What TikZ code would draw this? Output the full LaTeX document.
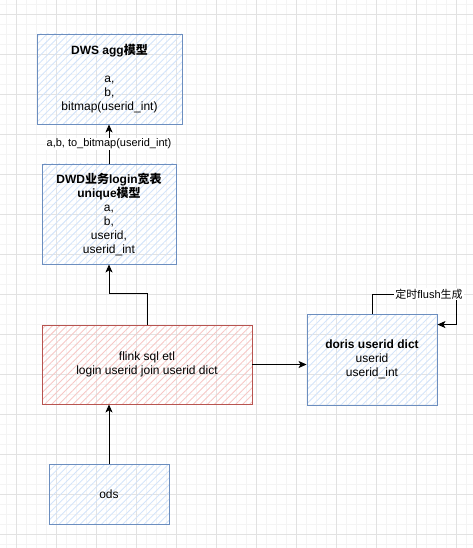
\documentclass[tikz,border=0pt]{standalone}
\usepackage{fontspec}
\setmainfont{Liberation Sans}
\newfontfamily\cjk{Noto Sans CJK SC}
\usepackage{tikz}
\usetikzlibrary{arrows.meta,patterns.meta,positioning}
\definecolor{boxblue}{HTML}{6C8EBF}
\definecolor{hatchblue}{HTML}{D4E4FA}
\definecolor{boxred}{HTML}{B85450}
\definecolor{hatchred}{HTML}{F6C8C6}
\definecolor{gridmaj}{HTML}{E2E2E2}
\definecolor{gridmin}{HTML}{F4F4F4}
\tikzset{
  tbl/.style = {align=center, inner sep=0pt, text centered,
    font=\fontsize{12}{14}\selectfont, line width=0.9pt},
  tbl_b/.style = {tbl, rectangle, draw=boxblue,
    pattern={Lines[angle=45,distance=5pt,line width=0.9pt]},
    pattern color=hatchblue},% table bleue
  tbl_r/.style = {tbl, rectangle, draw=boxred,
    pattern={Lines[angle=45,distance=5pt,line width=0.9pt]},
    pattern color=hatchred},% etape flink
  lbl/.style = {fill=white, inner sep=1pt,
    font=\fontsize{11}{13}\selectfont}% texte sur fleche
}

\begin{document}
\begin{tikzpicture}[x=1pt,y=-1pt,>={Stealth[length=8pt,width=7pt,inset=2pt]},
  link/.style={->,line width=0.9pt,black}]
  \useasboundingbox (0,0) rectangle (473,548);
  % grille
  \foreach \gx in {6.7,16.7,...,472} \draw[gridmin,line width=0.8pt] (\gx,0) -- (\gx,548);
  \foreach \gy in {4.3,14.3,...,547} \draw[gridmin,line width=0.8pt] (0,\gy) -- (473,\gy);
  \foreach \gx in {16.7,56.7,...,472} \draw[gridmaj,line width=0.8pt] (\gx,0) -- (\gx,548);
  \foreach \gy in {14.3,54.3,...,547} \draw[gridmaj,line width=0.8pt] (0,\gy) -- (473,\gy);

  \node [tbl_b, minimum width=145pt, minimum height=90pt] (dws) at (109.5,79)
    {\textbf{DWS agg{\cjk\bfseries 模型}}\\[14pt]a,\\b,\\bitmap(userid\_int)};
  \node [tbl_b, minimum width=134pt, minimum height=100pt] (dwd) at (109,214)
    {\textbf{DWD{\cjk\bfseries 业务}login{\cjk\bfseries 宽表}}\\
     \textbf{unique{\cjk\bfseries 模型}}\\a,\\b,\\userid,\\userid\_int};
  \node [tbl_r, minimum width=210pt, minimum height=79pt] (flink) at (147,364.5)
    {flink sql etl\\login userid join userid dict};
  \node [tbl_b, minimum width=130pt, minimum height=91pt] (doris) at (372,359.5)
    {\textbf{doris userid dict}\\userid\\userid\_int};
  \node [tbl_b, minimum width=120pt, minimum height=60pt] (ods) at (109,494) {ods};

  \coordinate (flushtop) at (456.7,294);

  \draw[link] (dwd.north) -- (dwd.north |- dws.south)
    node[lbl, midway] (bitmaplbl) {a,b, to\_bitmap(userid\_int)};
  \draw[link] (flink.north) -- ++(0,-31) -| (dwd.south);
  \draw[link] (ods.north) -- (ods.north |- flink.south);
  \draw[link] (flink.east) -- (flink.east -| doris.west);
  \draw[link] (doris.north) |- (flushtop) |- ([yshift=-11pt]doris.north east);
  \node[lbl] (flushlbl) at (429,294) {{\cjk 定时}flush{\cjk 生成}};
\end{tikzpicture}
\end{document}
